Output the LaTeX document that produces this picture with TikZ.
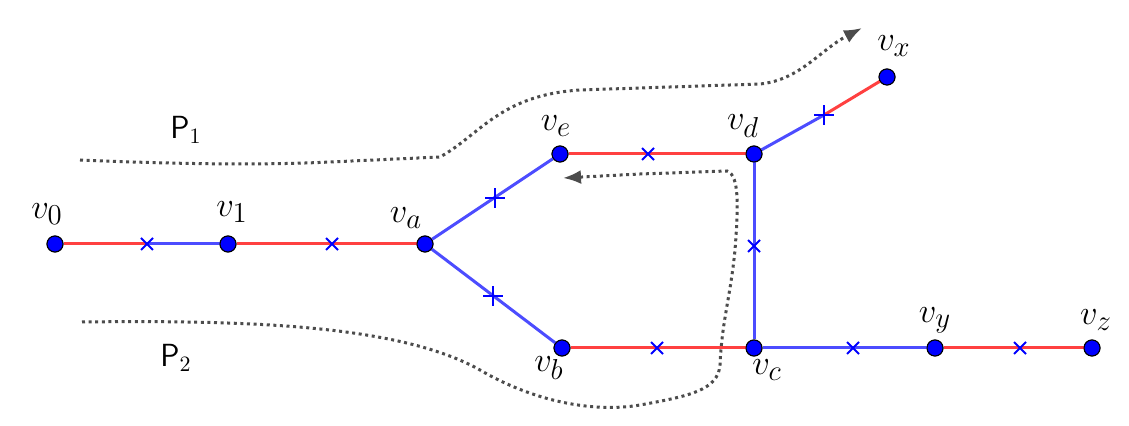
\documentclass[tikz,border=0pt]{standalone}
\usetikzlibrary{shapes.misc,arrows.meta}
\begin{document}
\begin{tikzpicture}[x=0.5pt,y=-0.5pt,
  vtx/.style={circle,fill=blue,draw=black,line width=0.5pt,inner sep=0pt,minimum size=8pt},
  rd/.style={draw=red!75,line width=1.5pt},
  bl/.style={draw=blue!70,line width=1.5pt},
  xm/.style={cross out,draw=blue,line width=1pt,inner sep=0pt,minimum size=5pt},
  pm/.style={cross out,rotate=45,draw=blue,line width=1pt,inner sep=0pt,minimum size=6pt},
  lab/.style={font=\fontsize{19}{21}\selectfont},
  dot/.style={draw=black!70,line width=1.5pt,dash pattern=on 1.5pt off 1.8pt},
  tip/.style={-{Latex[length=9pt,width=7pt]}}]
\useasboundingbox (0,0) rectangle (1129,426);
\node[vtx] (v0) at (55,244) {};
\node[vtx] (v1) at (228,244) {};
\node[vtx] (va) at (425,244) {};
\node[vtx] (ve) at (560,154) {};
\node[vtx] (vd) at (754,154) {};
\node[vtx] (vx) at (887,77) {};
\node[vtx] (vb) at (562,348) {};
\node[vtx] (vc) at (754,348) {};
\node[vtx] (vy) at (935,348) {};
\node[vtx] (vz) at (1092,348) {};
\coordinate (m1) at (147,244); \coordinate (m2) at (332,244);
\coordinate (m3) at (495,198); \coordinate (m4) at (493,296);
\coordinate (m5) at (648,154); \coordinate (m6) at (824,115);
\coordinate (m7) at (754,246); \coordinate (m8) at (657,348);
\coordinate (m9) at (853,348); \coordinate (m10) at (1020,348);
\path[rd] (v0) -- (m1); \path[bl] (m1) -- (v1);
\path[rd] (v1) -- (va);
\path[bl] (va) -- (ve); \path[bl] (va) -- (vb);
\path[rd] (ve) -- (vd);
\path[bl] (vd) -- (m6); \path[rd] (m6) -- (vx);
\path[bl] (vd) -- (vc);
\path[rd] (vb) -- (vc);
\path[bl] (vc) -- (vy);
\path[rd] (vy) -- (vz);
\foreach \m in {m1,m2,m5,m7,m8,m9,m10} \node[xm] at (\m) {};
\foreach \m in {m3,m4,m6} \node[pm] at (\m) {};
\foreach \n in {v0,v1,va,ve,vd,vx,vb,vc,vy,vz} \node[vtx] at (\n) {};
\node[lab] (l0) at (47,214) {$v_0$};
\node[lab] (l1) at (232,212) {$v_1$};
\node[lab] (la) at (406,218) {$v_a$};
\node[lab] (le) at (556,126) {$v_e$};
\node[lab] (ld) at (743,126) {$v_d$};
\node[lab] (lx) at (894,46) {$v_x$};
\node[lab] (lb) at (549,368) {$v_b$};
\node[lab] (lc) at (767,370) {$v_c$};
\node[lab] (ly) at (935,320) {$v_y$};
\node[lab] (lz) at (1096,320) {$v_z$};
\node[font=\sffamily\fontsize{16}{18}\selectfont] (p1) at (186,130) {P$_1$};
\node[font=\sffamily\fontsize{16}{18}\selectfont] (p2) at (176,358) {P$_2$};
\coordinate (a1) at (80,160);
\coordinate (a2) at (862,28);
\coordinate (b1) at (82,322);
\coordinate (b2) at (563,178);
\draw[dot,tip] (a1) .. controls (150,163) and (250,166) .. (330,162)
  -- (440,157) .. controls (480,135) and (500,95) .. (580,90)
  -- (760,84) .. controls (800,80) and (820,50) .. (a2);
\draw[dot,tip] (b1) .. controls (250,320) and (400,325) .. (480,370)
  .. controls (540,405) and (600,412) .. (640,405)
  .. controls (690,396) and (718,390) .. (720,365)
  .. controls (722,320) and (730,300) .. (735,250)
  .. controls (738,210) and (740,175) .. (727,171)
  -- (640,174) -- (b2);
\end{tikzpicture}
\end{document}
